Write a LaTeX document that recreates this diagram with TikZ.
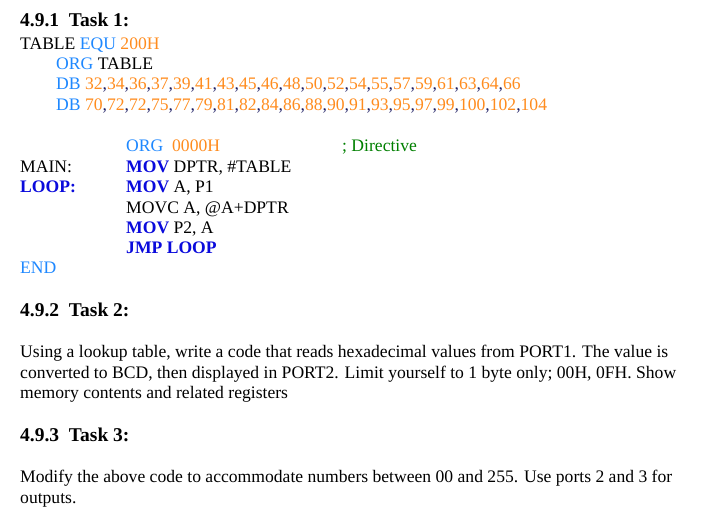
\documentclass[tikz,border=0pt]{standalone}
\usepackage{fontspec}
\setmainfont{Liberation Serif}
\definecolor{lb}{RGB}{30,136,255}
\definecolor{org}{RGB}{255,140,30}
\definecolor{nv}{RGB}{30,30,100}
\definecolor{bb}{RGB}{10,10,220}
\definecolor{gr}{RGB}{0,128,0}
\newcommand{\cm}{\textcolor{nv}{,}}
\newcommand{\kw}[1]{\textcolor{bb}{\textbf{#1}}}
\begin{document}
\begin{tikzpicture}[x=1pt,y=-1pt,
  tx/.style={anchor=base west,inner sep=0pt,font=\fontsize{17.6}{20}\selectfont},
  hd/.style={anchor=base west,inner sep=0pt,font=\fontsize{19.5}{22}\selectfont\bfseries}]
\useasboundingbox[fill=white] (0,0) rectangle (708,513);
\node[hd] (h1) at (20,27) {4.9.1\ \ Task 1:};
\node[tx] (l1) at (20,50) {TABLE \textcolor{lb}{EQU} \textcolor{org}{200H}};
\node[tx] (l2) at (56,70) {\textcolor{lb}{ORG} TABLE};
\node[tx] (l3) at (56,90) {\textcolor{lb}{DB} \textcolor{org}{32\cm34\cm36\cm37\cm39\cm41\cm43\cm45\cm46\cm48\cm50\cm52\cm54\cm55\cm57\cm59\cm61\cm63\cm64\cm66}};
\node[tx] (l4) at (56,111) {\textcolor{lb}{DB} \textcolor{org}{70\cm72\cm72\cm75\cm77\cm79\cm81\cm82\cm84\cm86\cm88\cm90\cm91\cm93\cm95\cm97\cm99\cm100\cm102\cm104}};
\node[tx] (c1) at (126,152) {\textcolor{lb}{ORG}\ \ \textcolor{org}{0000H}};
\node[tx] (d1) at (342,152) {\textcolor{gr}{; Directive}};
\node[tx] (m) at (20,172) {MAIN:};
\node[tx] (c2) at (126,172) {\kw{MOV} DPTR, \#TABLE};
\node[tx] (lp) at (20,192) {\kw{LOOP:}};
\node[tx] (c3) at (126,192) {\kw{MOV} A, P1};
\node[tx] (c4) at (126,213) {MOVC A, @A+DPTR};
\node[tx] (c5) at (126,233) {\kw{MOV} P2, A};
\node[tx] (c6) at (126,253) {\kw{JMP LOOP}};
\node[tx] (e) at (20,273) {\textcolor{lb}{END}};
\node[hd] (h2) at (20,316) {4.9.2\ \ Task 2:};
\node[tx] (p1) at (20,357) {Using a lookup table, write a code that reads hexadecimal values from PORT1. The value is};
\node[tx] (p2) at (20,378) {converted to BCD, then displayed in PORT2. Limit yourself to 1 byte only; 00H, 0FH. Show};
\node[tx] (p3) at (20,398) {memory contents and related registers};
\node[hd] (h3) at (20,441) {4.9.3\ \ Task 3:};
\node[tx] (q1) at (20,482) {Modify the above code to accommodate numbers between 00 and 255. Use ports 2 and 3 for};
\node[tx] (q2) at (20,503) {outputs.};
\end{tikzpicture}
\end{document}
